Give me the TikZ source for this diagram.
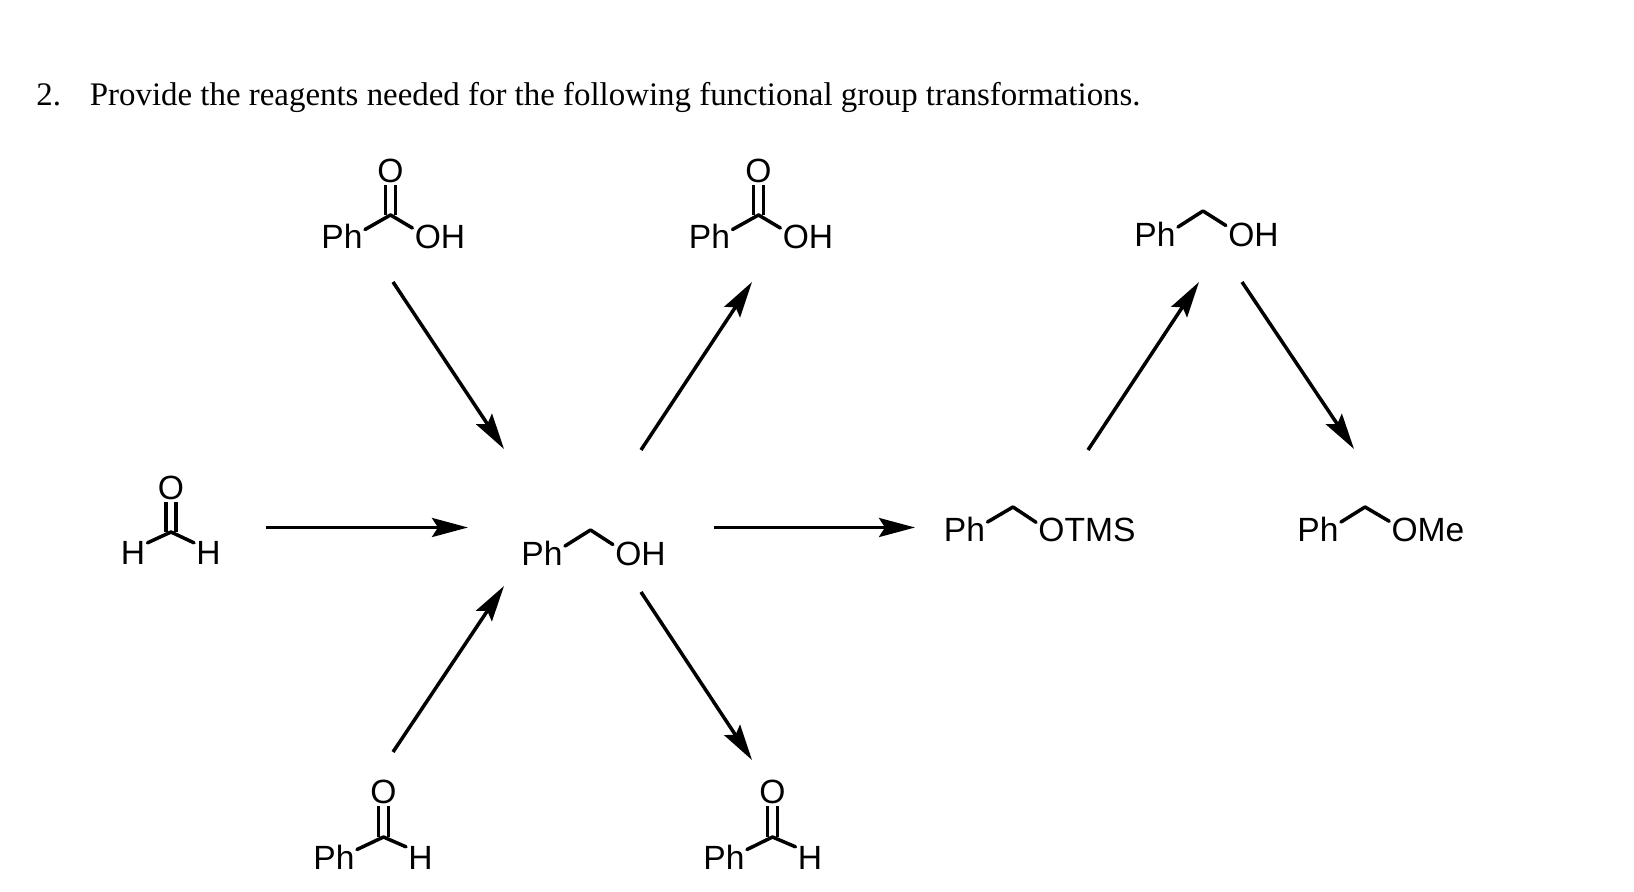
\documentclass[tikz,border=0pt]{standalone}
\usepackage{fontspec}
\setmainfont{Liberation Serif}
\newfontfamily\chemfont{Liberation Sans}
\usetikzlibrary{arrows.meta}

\tikzset{
  atom/.style={font=\chemfont\fontsize{16.8}{20}\selectfont,inner sep=1pt,text height=12pt,text depth=0pt},
  bond/.style={line width=1.75pt,line cap=round,line join=round},
  dbond/.style={double,double distance=3.2pt,line width=1.75pt},
  rxn/.style={line width=1.75pt,-{Stealth[length=18pt,width=9.5pt,inset=3pt]}},
  title/.style={anchor=base west,inner sep=0pt,font=\fontsize{16.45}{20}\selectfont}
}

\begin{document}
\begin{tikzpicture}[x=0.5pt,y=-0.5pt]
\useasboundingbox (0,0) rectangle (1634,892);

\node[title] (num) at (36,105.5) {2.};
\node[title] (question) at (89.5,105.5) {Provide the reagents needed for the following functional group transformations.};

%acid top left
\node[atom] (acidOa) at (390.5,171) {O};
\node[atom] (acidPha) at (342,237) {Ph};
\node[atom] (acidOHa) at (440,237) {OH};
\coordinate (acidCa) at (390.5,215);
\draw[dbond] (acidOa) -- (acidCa);
\draw[bond] (acidPha.18) -- (acidCa) -- (acidOHa.162);

%acid top middle
\node[atom] (acidOb) at (758.5,171) {O};
\node[atom] (acidPhb) at (709.5,237) {Ph};
\node[atom] (acidOHb) at (808,237) {OH};
\coordinate (acidCb) at (758.5,215);
\draw[dbond] (acidOb) -- (acidCb);
\draw[bond] (acidPhb.18) -- (acidCb) -- (acidOHb.162);

%alcohol top right
\node[atom] (alcPhb) at (1155,234.5) {Ph};
\node[atom] (alcOHb) at (1253.5,234.5) {OH};
\coordinate (alcCb) at (1203,211);
\draw[bond] (alcPhb.18) -- (alcCb) -- (alcOHb.162);

%formaldehyde
\node[atom] (formO) at (171,488) {O};
\node[atom] (formHa) at (133,553) {H};
\node[atom] (formHb) at (208.5,553) {H};
\coordinate (formC) at (171,532);
\draw[dbond] (formO) -- (formC);
\draw[bond] (formHa.35) -- (formC) -- (formHb.145);

%alcohol centre
\node[atom] (alcPha) at (542,553.5) {Ph};
\node[atom] (alcOHa) at (640.5,553.5) {OH};
\coordinate (alcCa) at (590.5,530);
\draw[bond] (alcPha.18) -- (alcCa) -- (alcOHa.162);

%silyl ether
\node[atom] (tmsPh) at (964.5,529.5) {Ph};
\node[atom] (tmsO) at (1087,529.5) {OTMS};
\coordinate (tmsC) at (1013,507);
\draw[bond] (tmsPh.18) -- (tmsC) -- (tmsO.172);

%methyl ether
\node[atom] (mePh) at (1318,529.5) {Ph};
\node[atom] (meO) at (1428,529.5) {OMe};
\coordinate (meC) at (1365,507);
\draw[bond] (mePh.18) -- (meC) -- (meO.168);

%aldehyde bottom left
\node[atom] (aldOa) at (383.5,792) {O};
\node[atom] (aldPha) at (334,857) {Ph};
\node[atom] (aldHa) at (420.5,857) {H};
\coordinate (aldCa) at (383.5,837);
\draw[dbond] (aldOa) -- (aldCa);
\draw[bond] (aldPha.18) -- (aldCa) -- (aldHa.145);

%aldehyde bottom right
\node[atom] (aldOb) at (772.5,792) {O};
\node[atom] (aldPhb) at (724,857) {Ph};
\node[atom] (aldHb) at (810,857) {H};
\coordinate (aldCb) at (772.5,837);
\draw[dbond] (aldOb) -- (aldCb);
\draw[bond] (aldPhb.18) -- (aldCb) -- (aldHb.145);

%arrow ends
\coordinate (formS) at (266,527.5);
\coordinate (formT) at (468,527.5);
\coordinate (tmsS) at (714,527.5);
\coordinate (tmsT) at (915,527.5);
\coordinate (acidaS) at (393,282);
\coordinate (acidaT) at (504,449);
\coordinate (acidbS) at (641,450);
\coordinate (acidbT) at (752,282);
\coordinate (upS) at (1088,450);
\coordinate (upT) at (1199,282);
\coordinate (downS) at (1242,282);
\coordinate (downT) at (1354,449);
\coordinate (aldaS) at (393,752);
\coordinate (aldaT) at (504,586);
\coordinate (aldbS) at (641,592);
\coordinate (aldbT) at (752,760);

\draw[rxn] (formS) -- (formT);
\draw[rxn] (tmsS) -- (tmsT);
\draw[rxn] (acidaS) -- (acidaT);
\draw[rxn] (acidbS) -- (acidbT);
\draw[rxn] (upS) -- (upT);
\draw[rxn] (downS) -- (downT);
\draw[rxn] (aldaS) -- (aldaT);
\draw[rxn] (aldbS) -- (aldbT);

\end{tikzpicture}
\end{document}
